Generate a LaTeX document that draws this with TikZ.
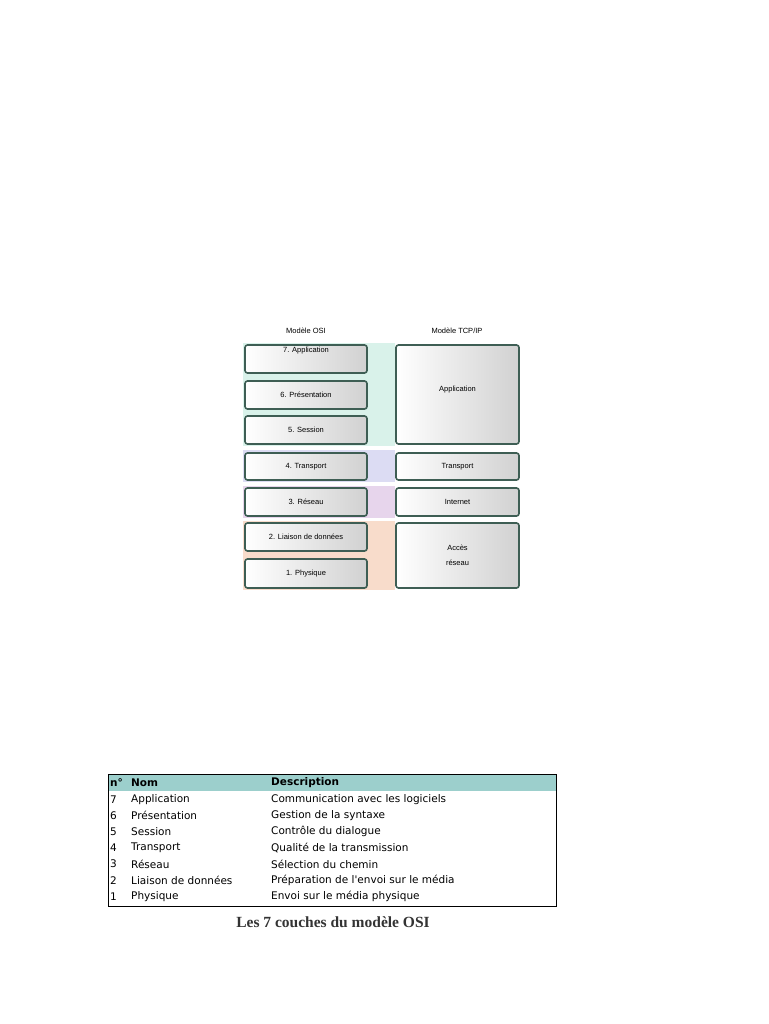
\documentclass[tikz,border=0pt]{standalone}
\usepackage{fontspec}
\setmainfont{Liberation Sans}
\newfontfamily\dejavu{DejaVu Sans}
\newfontfamily\tnr{Liberation Serif}
\definecolor{bord}{HTML}{3E5E54}
\definecolor{mint}{HTML}{D9F2EA}
\definecolor{lav}{HTML}{DCDCF3}
\definecolor{pur}{HTML}{E7D5EC}
\definecolor{ora}{HTML}{F8DCCB}
\definecolor{teal}{HTML}{9CCFCC}
\tikzset{
 layer/.style={draw=bord,line width=1.6pt,rounded corners=2.5pt,left color=white,right color=black!18,
   font=\fontsize{7.5}{9}\selectfont,align=center,inner sep=0pt},
 band/.style={draw=none},
 cell/.style={anchor=west,font=\dejavu\fontsize{10.5}{12}\selectfont,inner sep=0pt},
}
\begin{document}
\begin{tikzpicture}[x=1pt,y=-1pt]
\useasboundingbox[fill=white] (0,0) rectangle (768,1024);
% bands
\fill[mint] (243,343) rectangle (395,446);
\fill[lav] (243,450) rectangle (395,482);
\fill[pur] (243,486) rectangle (395,518);
\fill[ora] (243,521) rectangle (395,590);
\node[font=\fontsize{7.5}{9}\selectfont] (hosi) at (306,331) {Modèle OSI};
\node[font=\fontsize{7.5}{9}\selectfont] (htcp) at (457,331) {Modèle TCP/IP};
% left boxes
\def\lbox#1#2#3#4{\node[layer,minimum width=122pt,minimum height=#3pt] (#1) at (306,#2) {#4};}
\lbox{l7}{359}{28}{7. Application\\[9pt]}
\lbox{l6}{395}{28}{6. Présentation}
\lbox{l5}{430}{28}{5. Session}
\lbox{l4}{466.5}{27}{4. Transport}
\lbox{l3}{502}{28}{3. Réseau}
\lbox{l2}{537}{28}{2. Liaison de données}
\lbox{l1}{573.5}{29}{1. Physique}
% right boxes
\node[layer,minimum width=123pt,minimum height=99pt] (rapp) at (457.5,394.5) {Application\\[2pt]};
\node[layer,minimum width=123pt,minimum height=27pt] (rtr) at (457.5,466.5) {Transport};
\node[layer,minimum width=123pt,minimum height=28pt] (rint) at (457.5,502) {Internet};
\node[layer,minimum width=123pt,minimum height=65pt] (racc) at (457.5,555.5) {Accès\\[6pt]réseau};
% table
\fill[teal] (108,774) rectangle (556,791);
\draw[line width=0.8pt] (108,774) rectangle (556,906);
\node[cell,font=\dejavu\bfseries\fontsize{10.5}{12}\selectfont] (hn) at (110,783) {n°};
\node[cell,font=\dejavu\bfseries\fontsize{10.5}{12}\selectfont] (hnom) at (131,783) {Nom};
\node[cell,font=\dejavu\bfseries\fontsize{10.5}{12}\selectfont] (hdesc) at (271,783) {Description};
\foreach \n/\nom/\d [count=\i] in {7/Application/Communication avec les logiciels,
 6/Présentation/Gestion de la syntaxe,
 5/Session/Contrôle du dialogue,
 4/Transport/Qualité de la transmission,
 3/Réseau/Sélection du chemin,
 2/Liaison de données/Préparation de l'envoi sur le média,
 1/Physique/Envoi sur le média physique}{
  \pgfmathsetmacro{\yy}{783+16.2*\i}
  \node[cell] (n\i) at (110,\yy) {\n};
  \node[cell] (m\i) at (131,\yy) {\nom};
  \node[cell] (d\i) at (271,\yy) {\d};
}
\node[font=\tnr\bfseries\fontsize{15.5}{18}\selectfont,text=black!80] (cap) at (333,922) {Les 7 couches du modèle OSI};
\end{tikzpicture}
\end{document}
